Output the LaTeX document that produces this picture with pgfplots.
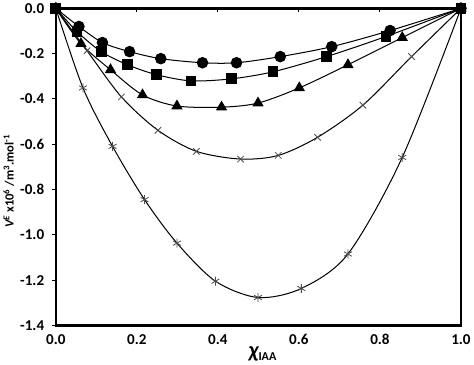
\documentclass[border=0pt]{standalone}
\usepackage{pgfplots}
\pgfplotsset{compat=1.18}
\usepackage{fontspec}
\setmainfont{Carlito}
\begin{document}
\begin{tikzpicture}[x=1bp,y=1bp]
\begin{axis}[
  scale only axis,
  width=401bp, height=314bp,
  xmin=0, xmax=1, ymin=-1.4, ymax=0,
  xtick={0,0.2,...,1.0}, ytick={-1.4,-1.2,...,0},
  xticklabels={0.0,0.2,0.4,0.6,0.8,1.0},
  yticklabels={-1.4,-1.2,-1.0,-0.8,-0.6,-0.4,-0.2,0.0},
  xtick pos=right, xticklabel pos=left,
  xtick align=inside, ytick align=outside, ytick pos=left,
  major tick length=4bp,
  tick style={line width=1bp, black},
  axis line style={line width=2.6bp},
  /pgf/number format/assume math mode=true,
  ticklabel style={font=\fontsize{15}{16}\selectfont\bfseries},
  xticklabel style={yshift=-5bp},
  yticklabel style={xshift=-4bp},
  xlabel={{\fontsize{22}{22}\selectfont\bfseries\itshape χ}{\fontsize{12}{12}\selectfont\bfseries\raisebox{-3bp}{IAA}}},
  xlabel style={yshift=5bp, xshift=4bp},
  ylabel={\fontsize{12.5}{13}\selectfont\bfseries\itshape V\textsuperscript{E}\upshape\ x10\textsuperscript{6} /m\textsuperscript{3}.mol\textsuperscript{-1}},
  every axis y label/.append style={at={(ticklabel cs:0.455)}},
  ylabel style={yshift=-1bp},
  clip=false,
  every axis plot/.append style={black, line width=1bp, smooth},
]
% asterisk series
\addplot[mark=asterisk, mark size=4.5bp, mark options={line width=0.8bp, gray!60!black}] coordinates {
(0,0) (0.067,-0.351) (0.140,-0.609) (0.219,-0.844) (0.299,-1.036) (0.394,-1.204) (0.499,-1.276) (0.606,-1.236) (0.721,-1.084) (0.855,-0.658) (1,0)};
% x series
\addplot[mark=x, mark size=4.5bp, mark options={line width=0.8bp, gray!60!black}] coordinates {
(0,0) (0.077,-0.187) (0.162,-0.391) (0.252,-0.538) (0.347,-0.631) (0.456,-0.665) (0.549,-0.649) (0.646,-0.569) (0.758,-0.427) (0.878,-0.213) (1,0)};
% triangles
\addplot[mark=triangle*, mark size=5.5bp] coordinates {
(0,0) (0.062,-0.156) (0.135,-0.271) (0.214,-0.382) (0.299,-0.431) (0.409,-0.436) (0.499,-0.418) (0.601,-0.351) (0.721,-0.249) (0.855,-0.129) (1,0)};
% circles
\addplot[mark=*, mark size=5.2bp] coordinates {
(0,0) (0.057,-0.080) (0.115,-0.151) (0.182,-0.191) (0.259,-0.222) (0.362,-0.240) (0.446,-0.240) (0.554,-0.213) (0.681,-0.169) (0.825,-0.098) (1,0)};
% squares
\addplot[mark=square*, mark size=4.8bp] coordinates {
(0,0) (0.052,-0.102) (0.112,-0.191) (0.177,-0.249) (0.249,-0.293) (0.334,-0.320) (0.434,-0.311) (0.536,-0.280) (0.668,-0.213) (0.815,-0.124) (1,0)};
\end{axis}
\end{tikzpicture}
\end{document}
